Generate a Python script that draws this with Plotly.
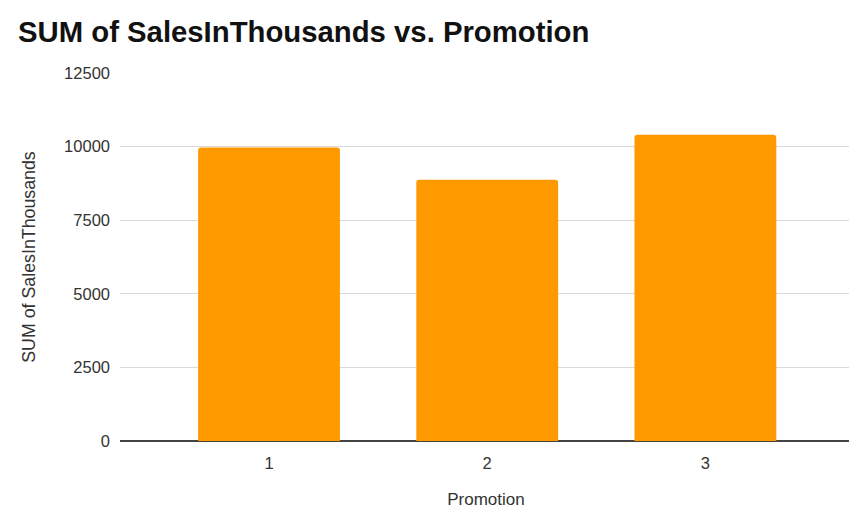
import plotly.graph_objects as go

promotions = ["1", "2", "3"]
sales_sum = [9970, 8870, 10400]
y_ticks = [0, 2500, 5000, 7500, 10000, 12500]
y_tick_text = ["0", "2500", "5000", "7500", "10000", "12500"]

fig = go.Figure()
fig.add_trace(go.Bar(
    x=promotions,
    y=sales_sum,
    marker=dict(color="#ff9900", cornerradius=3, line=dict(width=0)),
    width=0.65,
))

# page body has an 8px margin, so the figure is a bit smaller than the window
fig.update_layout(
    width=849, height=506,
    margin=dict(l=112, r=5, t=65, b=73),
    paper_bgcolor="white", plot_bgcolor="white",
    font=dict(family="Liberation Sans, Arial", color="#444444", size=16),
    title=dict(text="<b>SUM of SalesInThousands vs. Promotion</b>",
               x=0.0118, xanchor="left", y=0.954, yanchor="middle",
               font=dict(size=29.3, color="#111111")),
    showlegend=False,
    bargap=0.35,
)
fig.update_xaxes(
    type="category", range=[-0.683, 2.672], automargin=False,
    showgrid=False, ticks="", ticklabelstandoff=10,
    tickfont=dict(size=16.5, color="#333333"),
    title=dict(text="Promotion", font=dict(size=17, color="#333333"), standoff=22),
)
fig.update_yaxes(
    range=[0, 12500], tickvals=y_ticks, ticktext=y_tick_text, automargin=False,
    showgrid=True, gridcolor="#d9d9d9", gridwidth=1,
    zeroline=True, zerolinecolor="#444444", zerolinewidth=1.8,
    tickfont=dict(size=16.5, color="#333333"), ticklabelstandoff=9,
    title=dict(text="SUM of SalesInThousands", font=dict(size=17.8, color="#333333"), standoff=23),
)

fig.write_html("out.html")
